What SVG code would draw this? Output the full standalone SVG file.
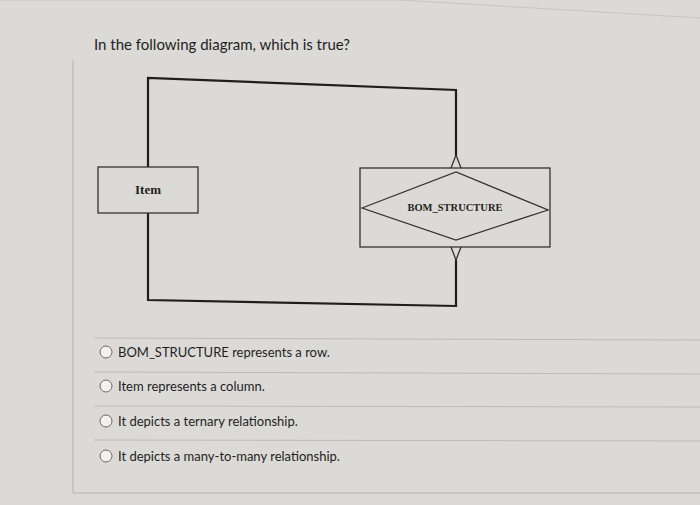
<svg xmlns="http://www.w3.org/2000/svg" width="700" height="505" viewBox="0 0 700 505">
<style>
.ln{stroke:#1e1e1e;stroke-width:2.2;fill:none}
.th{stroke:#333;stroke-width:1.3;fill:none}
.q{font-family:Lato,"Liberation Sans",sans-serif;fill:#1e1e1e}
.d{font-family:"Liberation Serif",serif;fill:#1e1e1e;font-weight:bold}
.sep{stroke:#bdbbb8;stroke-width:1}
.rad{fill:#f2f1ef;stroke:#6a6a6a;stroke-width:1}
</style>
<rect width="700" height="505" fill="#dcdad7"/>
<path d="M0 0 H400 L700 18" stroke="#c6c4c1" fill="none"/>
<line x1="73" y1="60" x2="73" y2="493" stroke="#b5b3b0"/>
<line x1="73" y1="493" x2="700" y2="493" stroke="#b5b3b0"/>
<text class="q" x="94" y="50" font-size="15">In the following diagram, which is true?</text>
<g id="connectors">
<path class="ln" d="M148 167 V78 L456 90 V155"/>
<path class="th" d="M456 155 L451 168 M456 155 L461 168"/>
<path class="ln" d="M148 213 V300 L456 306 V260"/>
<path class="th" d="M456 260 L451 247 M456 260 L461 247"/>
</g>
<g id="item">
<rect x="98" y="167" width="100" height="46" class="th" fill="#e6e5e2"/>
<text class="d" x="148" y="194" font-size="13" font-weight="normal" text-anchor="middle">Item</text>
</g>
<g id="bom">
<rect x="360" y="168" width="190" height="79" class="th" fill="#e6e5e2"/>
<polygon points="362,208 456,172 548,210 456,240" class="th"/>
<text class="d" x="455" y="211" font-size="10.5" text-anchor="middle">BOM_STRUCTURE</text>
</g>
<g id="options">
<line class="sep" x1="94" y1="338" x2="700" y2="340"/>
<circle class="rad" cx="106" cy="352" r="6"/>
<text class="q" x="118" y="357" font-size="13">BOM_STRUCTURE represents a row.</text>
<line class="sep" x1="94" y1="372" x2="700" y2="374"/>
<circle class="rad" cx="106" cy="386" r="6"/>
<text class="q" x="118" y="391" font-size="13">Item represents a column.</text>
<line class="sep" x1="94" y1="406" x2="700" y2="407"/>
<circle class="rad" cx="106" cy="421" r="6"/>
<text class="q" x="118" y="426" font-size="13">It depicts a ternary relationship.</text>
<line class="sep" x1="94" y1="440" x2="700" y2="441"/>
<circle class="rad" cx="106" cy="456" r="6"/>
<text class="q" x="118" y="461" font-size="13">It depicts a many-to-many relationship.</text>
</g>
</svg>
